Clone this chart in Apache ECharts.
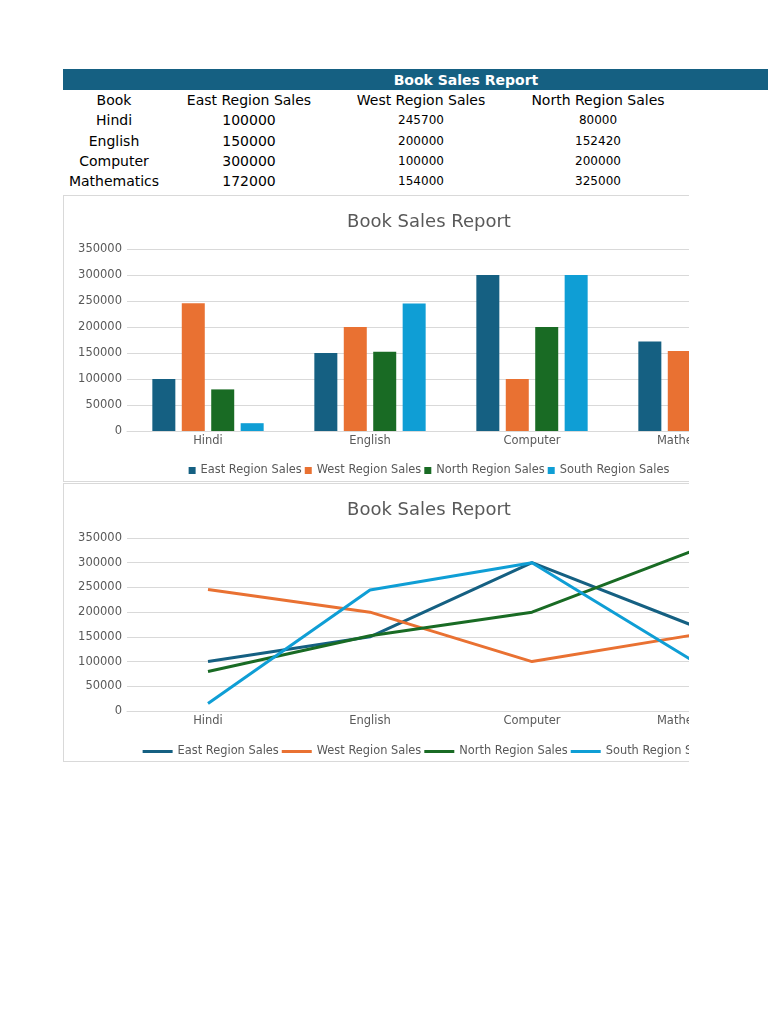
<!DOCTYPE html>
<html>
<head>
<meta charset="utf-8">
<script src="https://cdn.jsdelivr.net/npm/echarts@6/dist/echarts.min.js"></script>
<style>
html,body{margin:0;padding:0;background:#fff;width:768px;height:1024px;overflow:hidden;font-family:'DejaVu Sans',sans-serif;}
#hdr{position:absolute;left:63px;top:69px;width:705px;height:21px;background:#156082;}
#hdrTitle{position:absolute;left:466px;top:79.5px;transform:translate(-50%,-50%);color:#fff;font-weight:bold;font-size:14px;white-space:nowrap;}
.cell{position:absolute;transform:translate(-50%,-50%);white-space:nowrap;color:#000;font-size:14px;}
.small{font-size:12px;}
.wrap{position:absolute;left:63px;width:625px;overflow:hidden;border:1px solid #d9d9d9;border-right:none;background:#fff;}
.chart{position:absolute;left:0;top:0;width:730px;}
</style>
</head>
<body>
<div id="hdr"></div>
<div id="hdrTitle"></div>
<div id="table"></div>
<div class="wrap" style="top:195px;height:285px;"><div id="c1" class="chart" style="height:285px;"></div></div>
<div class="wrap" style="top:483px;height:277px;"><div id="c2" class="chart" style="height:277px;"></div></div>
<script>
// ---- data ----
const reportTitle = 'Book Sales Report';
const categories = ['Hindi', 'English', 'Computer', 'Mathematics'];
const seriesNames = ['East Region Sales', 'West Region Sales', 'North Region Sales', 'South Region Sales'];
const eastSales = [100000, 150000, 300000, 172000];
const westSales = [245700, 200000, 100000, 154000];
const northSales = [80000, 152420, 200000, 325000];
const southSales = [15000, 245000, 300000, 100000];
const tableHeaders = ['Book', 'East Region Sales', 'West Region Sales', 'North Region Sales'];
const yTicks = [0, 50000, 100000, 150000, 200000, 250000, 300000, 350000];

// ---- styles ----
const colors = ['#156082', '#E97132', '#196B24', '#0F9ED5'];
const font = 'DejaVu Sans';
const textGrey = '#595959';

// ---- table (text) ----
document.getElementById('hdrTitle').textContent = reportTitle;
const colX = [114, 249, 421, 598];
const rowY = [100, 120, 141, 161, 181];
const tbl = document.getElementById('table');
function addCell(text, x, y, small) {
  const d = document.createElement('div');
  d.className = 'cell' + (small ? ' small' : '');
  d.style.left = x + 'px';
  d.style.top = y + 'px';
  d.textContent = text;
  tbl.appendChild(d);
}
tableHeaders.forEach((h, i) => addCell(h, colX[i], rowY[0], false));
const tableCols = [eastSales, westSales, northSales];
categories.forEach((c, r) => {
  addCell(c, colX[0], rowY[r + 1], false);
  tableCols.forEach((col, k) => addCell(String(col[r]), colX[k + 1], rowY[r + 1], k > 0));
});

// ---- charts ----
const allSeries = [eastSales, westSales, northSales, southSales];
function baseOption(isLine) {
  return {
    animation: false,
    backgroundColor: '#fff',
    color: colors,
    textStyle: { fontFamily: font },
    title: {
      text: reportTitle, left: 'center', top: 17, padding: 0,
      textStyle: { fontFamily: font, fontSize: 18, fontWeight: 'normal', color: textGrey }
    },
    legend: {
      data: seriesNames, left: 'center', top: isLine ? 262 : 269, padding: 0,
      itemGap: 3,
      itemWidth: isLine ? 30 : 7, itemHeight: isLine ? 3 : 7,
      icon: 'rect',
      textStyle: { fontFamily: font, fontSize: 11.4, color: textGrey }
    },
    grid: { left: 63, right: 19, top: isLine ? 54 : 53, bottom: 50, containLabel: false },
    xAxis: {
      type: 'category', data: categories, boundaryGap: true,
      axisLine: { show: true, lineStyle: { color: '#d9d9d9' } },
      axisTick: { show: false },
      axisLabel: { fontFamily: font, fontSize: 11.5, color: textGrey, margin: 4, interval: 0 }
    },
    yAxis: {
      type: 'value', min: yTicks[0], max: yTicks[yTicks.length - 1], interval: yTicks[1] - yTicks[0],
      axisLine: { show: false }, axisTick: { show: false },
      splitLine: { lineStyle: { color: '#d9d9d9' } },
      axisLabel: { fontFamily: font, fontSize: 11.5, color: textGrey, margin: 5, formatter: v => String(v) }
    }
  };
}

const c1 = echarts.init(document.getElementById('c1'), null, { renderer: 'canvas' });
const o1 = baseOption(false);
o1.series = seriesNames.map((n, i) => ({
  name: n, type: 'bar', data: allSeries[i], barWidth: 23, barGap: '28%'
}));
c1.setOption(o1);

const c2 = echarts.init(document.getElementById('c2'), null, { renderer: 'canvas' });
const o2 = baseOption(true);
o2.series = seriesNames.map((n, i) => ({
  name: n, type: 'line', data: allSeries[i], symbol: 'none', lineStyle: { width: 3 }
}));
c2.setOption(o2);
</script>
</body>
</html>
